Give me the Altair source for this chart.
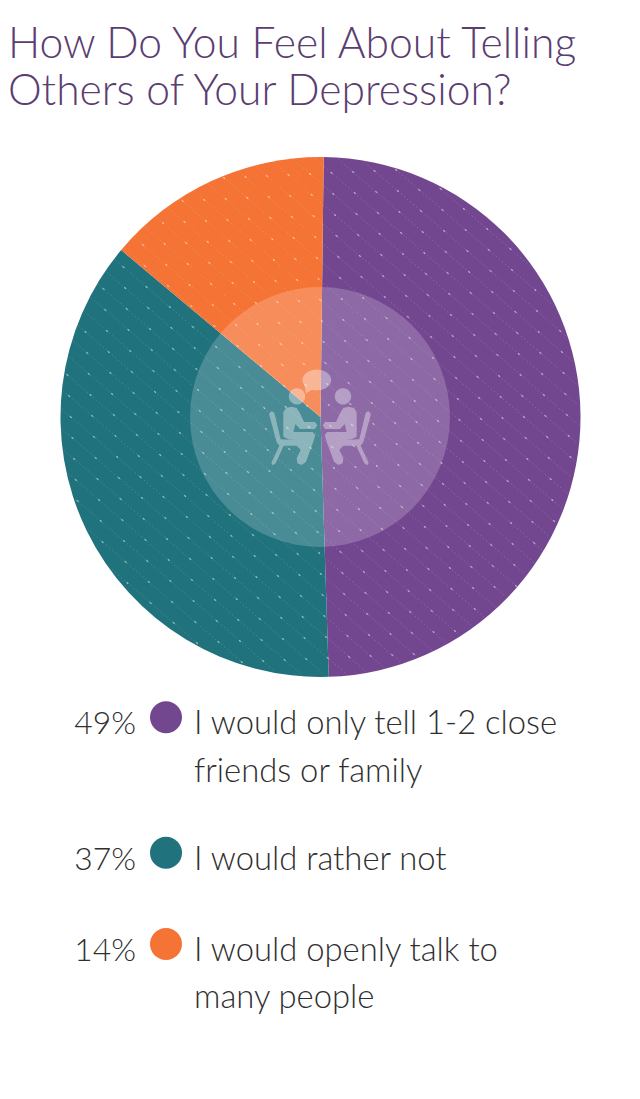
import math
import altair as alt
import pandas as pd

TITLE_LINES = ["How Do You Feel About Telling", "Others of Your Depression?"]
CATEGORIES = ["only tell", "rather not", "openly talk"]
SHARES = [49.3, 36.6, 14.1]
COLORS = ["#734790", "#20727d", "#f47335"]
PERCENT_LABELS = ["49%", "37%", "14%"]
LEGEND_LINES = [
    ["I would only tell 1-2 close", "friends or family"],
    ["I would rather not"],
    ["I would openly talk to", "many people"],
]

FONT = "Lato"
PLOT_TOP = 120
OX, OY = 8, PLOT_TOP
CX, CY = 320.5 - OX, 417 - OY
R = 260
START = math.radians(0.7)


def fmt(p):
    return f"{p[0]:.2f} {p[1]:.2f}"


def poly(points):
    return "M" + "L".join(fmt(p) for p in points) + "Z"


def ellipse(cx, cy, rx, ry, n=36):
    return [(cx + rx * math.cos(2 * math.pi * i / n), cy + ry * math.sin(2 * math.pi * i / n)) for i in range(n)]


# Background texture: a dotted lattice of diagonal lines, clipped to the pie
U = (23.2, 20.0)
V = (21.5, -1.0)
O = (419.3 - 320.5, 190.0 - 417.0)
LIMIT = R - 1.5
ulen = math.hypot(*U)
ux, uy = U[0] / ulen, U[1] / ulen
dots, lines = [], []
for j in range(-40, 41):
    bx, by = O[0] + j * V[0], O[1] + j * V[1]
    t0 = bx * ux + by * uy
    d2 = bx * bx + by * by - t0 * t0
    if d2 < LIMIT * LIMIT:
        h = math.sqrt(LIMIT * LIMIT - d2)
        a = (bx + (-t0 - h) * ux, by + (-t0 - h) * uy)
        b = (bx + (-t0 + h) * ux, by + (-t0 + h) * uy)
        lines.append(f"M{fmt(a)}L{fmt(b)}")
    for i in range(-40, 41):
        x, y = bx + i * U[0], by + i * U[1]
        if x * x + y * y < LIMIT * LIMIT:
            dots.append(f"M{fmt((x - 1.2 * ux, y - 1.2 * uy))}L{fmt((x + 1.2 * ux, y + 1.2 * uy))}")


# Icon outlines, traced around the pie's centre
def icon_pt(x, y, mirror=False):
    if mirror:
        x = 840 - x
    return ((x - 421.5) / 3, (y - 411) / 3)


BODY = [(310, 397), (318, 384), (335, 380), (350, 384), (360, 400), (372, 426), (405, 426), (412, 436),
        (405, 447), (360, 447), (346, 432), (340, 456), (398, 456), (406, 465), (400, 485), (378, 545),
        (365, 555), (352, 550), (350, 535), (362, 510), (345, 480), (325, 478), (310, 470)]
CHAIR = [(267, 402), (275, 393), (283, 398), (302, 478), (345, 480), (362, 510), (350, 497), (311, 497),
         (287, 550), (278, 556), (274, 548), (298, 497), (290, 487)]


def icon_path():
    parts = []
    for mirror in (False, True):
        parts.append(poly([icon_pt(x, y, mirror) for x, y in BODY]))
        parts.append(poly([icon_pt(x, y, mirror) for x, y in CHAIR]))
        hx, hy = icon_pt(351, 349, mirror)
        parts.append(poly(ellipse(hx, hy, 8.2, 8.2)))
    bub = ellipse(-3.7, -37, 14.4, 10.4)
    bub = bub[:12] + [(-14.5, -23.4)] + bub[15:]
    parts.append(poly(bub))
    return "".join(parts)


def one():
    return alt.Chart(pd.DataFrame({"k": [0]}))


def shape_layer(path, **kw):
    return one().mark_point(shape=path, size=4, **kw).encode(x=alt.value(CX), y=alt.value(CY))


def text_layer(text, x, y, size, align="left", color="#2f2f2f"):
    return alt.Chart(pd.DataFrame({"t": [text]})).mark_text(
        align=align, baseline="alphabetic", font=FONT, fontSize=size, fontWeight=300, color=color
    ).encode(x=alt.value(x - OX), y=alt.value(y - OY), text="t:N")


pie_df = pd.DataFrame({"cat": CATEGORIES, "share": SHARES, "o": list(range(len(SHARES)))})
pie = alt.Chart(pie_df).mark_arc(outerRadius=R, stroke=None).encode(
    theta=alt.Theta("share:Q", stack=True, scale=alt.Scale(domain=[0, sum(SHARES)], range=[START, START + 2 * math.pi])),
    order=alt.Order("o:Q"),
    color=alt.Color("cat:N", scale=alt.Scale(domain=CATEGORIES, range=COLORS), legend=None),
    x=alt.value(CX),
    y=alt.value(CY),
)

layers = [
    pie,
    one().mark_point(shape="circle", size=(2 * 130) ** 2, filled=True, fill="#ffffff", opacity=0.19, strokeWidth=0).encode(
        x=alt.value(320 - OX), y=alt.value(CY)
    ),
    shape_layer("".join(lines), filled=False, stroke="#ffffff", strokeWidth=0.8, strokeOpacity=0.3, strokeDash=[1.5, 2.5]),
    shape_layer("".join(dots), filled=False, stroke="#ffffff", strokeWidth=1.3, strokeOpacity=0.7),
    shape_layer(icon_path(), filled=True, fill="#ffffff", opacity=0.36, strokeWidth=0),
]

BASELINES = [[733.5, 781.5], [869.5], [960.5, 1008]]
DOT_Y = [717.3, 852.7, 944]
for i in range(3):
    layers.append(text_layer(PERCENT_LABELS[i], 136, BASELINES[i][0], 31.8, "right"))
    layers.append(
        alt.Chart(pie_df.iloc[[i]]).mark_point(shape="circle", size=32 ** 2, filled=True, opacity=1, strokeWidth=0).encode(
            x=alt.value(166 - OX), y=alt.value(DOT_Y[i] - OY),
            color=alt.Color("cat:N", scale=alt.Scale(domain=CATEGORIES, range=COLORS), legend=None),
        )
    )
    for line, base in zip(LEGEND_LINES[i], BASELINES[i]):
        layers.append(text_layer(line, 194, base, 32.8))

# Title drawn as two text lines inside the plot frame
layers.append(text_layer(TITLE_LINES[0], 8, 58, 42.6, color="#5b3d72"))
layers.append(text_layer(TITLE_LINES[1], 8, 104.5, 42.6, color="#5b3d72"))

chart = alt.layer(*layers).properties(
    width=624,
    height=1083 - (PLOT_TOP - 8),
    padding={"left": 0, "top": PLOT_TOP - 8, "right": 0, "bottom": 0},
    autosize=alt.AutoSizeParams(type="none"),
).configure_view(stroke=None)

chart.save("out.html", embed_options={"renderer": "svg", "actions": False})
